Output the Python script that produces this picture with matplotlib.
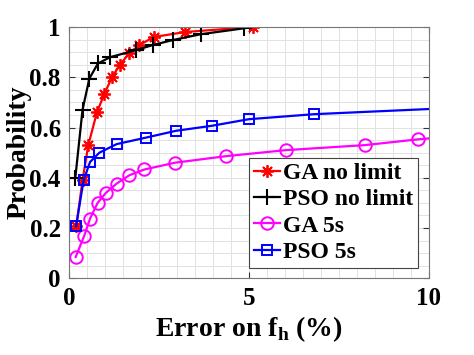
import matplotlib
matplotlib.use("Agg")
import matplotlib.pyplot as plt
from matplotlib.ticker import MultipleLocator

# values
ga_nl_x = [0.2, 0.37, 0.53, 0.77, 0.98, 1.19, 1.41, 1.67, 1.95, 2.35, 3.22, 5.1]
ga_nl_y = [0.21, 0.39, 0.53, 0.66, 0.735, 0.80, 0.85, 0.895, 0.928, 0.96, 0.98, 1.0]

pso_nl_x = [0.17, 0.37, 0.56, 0.80, 1.14, 1.86, 2.32, 2.88, 3.65, 4.87]
pso_nl_y = [0.40, 0.67, 0.795, 0.855, 0.88, 0.908, 0.928, 0.948, 0.971, 0.995]

ga5_x = [0.18, 0.42, 0.58, 0.79, 1.02, 1.32, 1.67, 2.09, 2.94, 4.36, 6.02, 8.22, 9.70, 11.5]
ga5_y = [0.085, 0.17, 0.238, 0.30, 0.34, 0.377, 0.41, 0.433, 0.46, 0.486, 0.51, 0.53, 0.553, 0.575]

pso5_x = [0.19, 0.40, 0.58, 0.84, 1.32, 2.14, 2.97, 3.97, 4.99, 6.8, 11.0]
pso5_y = [0.207, 0.39, 0.463, 0.50, 0.534, 0.56, 0.587, 0.607, 0.633, 0.653, 0.68]

labels = ["GA no limit", "PSO no limit", "GA 5s", "PSO 5s"]
yticks = [0, 0.2, 0.4, 0.6, 0.8, 1]
ytick_labels = ["0", "0.2", "0.4", "0.6", "0.8", "1"]

plt.rcParams["font.family"] = ["Liberation Serif", "DejaVu Serif"]
plt.rcParams["font.weight"] = "bold"
plt.rcParams["mathtext.fontset"] = "custom"
plt.rcParams["mathtext.bf"] = "Liberation Serif:bold"
plt.rcParams["mathtext.rm"] = "Liberation Serif:bold"

fig = plt.figure(figsize=(4.74, 3.55), dpi=100)
ax = fig.add_axes([0.146, 0.216, 0.759, 0.708])

ax.plot(ga_nl_x, ga_nl_y, color="red", lw=1.6, marker=(8, 2, 0), ms=9,
        mew=1.3, label=labels[0])
ax.plot(pso_nl_x, pso_nl_y, color="black", lw=1.6, marker="+", ms=11,
        mew=1.5, label=labels[1])
ax.plot(ga5_x, ga5_y, color="magenta", lw=1.6, marker="o", ms=9,
        mfc="none", mew=1.4, label=labels[2])
ax.plot(pso5_x, pso5_y, color="blue", lw=1.6, marker="s", ms=7,
        mfc="none", mew=1.4, label=labels[3])

ax.set_xlim(0, 10)
ax.set_ylim(0, 1)
ax.xaxis.set_major_locator(MultipleLocator(5))
ax.xaxis.set_minor_locator(MultipleLocator(0.5))
ax.yaxis.set_minor_locator(MultipleLocator(0.05))
ax.set_yticks(yticks)
ax.set_yticklabels(ytick_labels)

ax.grid(which="both", color="#e2e2e2", lw=0.7)
ax.set_axisbelow(True)
ax.tick_params(which="major", direction="in", length=4, width=0.8,
               top=True, right=True, labelsize=18, color="#333333", pad=6)
ax.tick_params(which="minor", length=0)
for s in ax.spines.values():
    s.set_color("#777777")
    s.set_linewidth(0.8)

ax.set_xlabel(r"Error on f$_{\mathbf{h}}$ (%)", fontsize=20, fontweight="bold",
              labelpad=3)
ax.set_ylabel("Probability", fontsize=20, fontweight="bold")
ax.yaxis.set_label_coords(-0.106, 0.5)

leg = ax.legend(loc="lower right", fontsize=17, handlelength=1.1,
                handletextpad=0.15, borderpad=0.2, labelspacing=0.2,
                borderaxespad=0.45, fancybox=False, framealpha=1,
                edgecolor="#444444")
leg.get_frame().set_linewidth(0.8)

fig.savefig("out.png", dpi=100)
